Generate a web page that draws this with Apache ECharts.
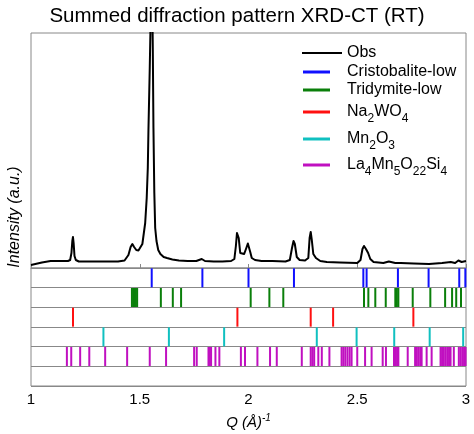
<!DOCTYPE html>
<html>
<head>
<meta charset="utf-8">
<script src="https://cdn.jsdelivr.net/npm/echarts@6/dist/echarts.min.js"></script>
<style>
html,body{margin:0;padding:0;background:#fff;}
#chart{width:474px;height:434px;}
</style>
</head>
<body>
<div id="chart"></div>
<script>
/*----------data----------*/
// observed pattern, Q (1/A) and intensity (a.u.)
var obsQ=[1.000,1.020,1.050,1.090,1.130,1.170,1.180,1.186,1.190,1.193,1.196,1.200,1.206,1.220,1.280,1.340,1.400,1.430,1.448,1.458,1.466,1.474,1.484,1.494,1.502,1.512,1.525,1.532,1.537,1.540,1.546,1.551,1.556,1.560,1.563,1.567,1.571,1.577,1.585,1.595,1.610,1.625,1.650,1.680,1.720,1.760,1.785,1.800,1.840,1.880,1.920,1.935,1.942,1.947,1.950,1.955,1.962,1.970,1.980,1.990,1.997,2.002,2.008,2.015,2.030,2.060,2.110,2.170,2.190,2.200,2.207,2.213,2.222,2.235,2.260,2.275,2.281,2.286,2.291,2.298,2.310,2.330,2.360,2.420,2.500,2.515,2.524,2.531,2.540,2.550,2.560,2.575,2.620,2.645,2.675,2.700,2.760,2.830,2.890,2.930,2.950,2.965,2.972,2.980,2.988,3.000];
var obsI=[3,4,5.5,7,7,7,8,15,27,31,25,12,8,6.5,6.5,6.5,6.5,7.5,13,21,24,21,18,17.5,18,24,45,70,100,138,200,260,300,220,140,75,40,27,18,14,11,10,8.5,7.5,7,7,9,7,6.5,6.5,7,9,22,35,37,30,15,13,14,20,24.5,24,16,10,8,7,7,6.5,8,20,27,24,11,8,7.5,10,30,36,28,14,10,7,6,5.5,5,8,19,22,19,15,9,6,5,6.5,5,5,4.5,4,5,6,5,7.5,9,6,5,7];
// reflection positions of each phase (Q)
var cristobalite=[1.555,1.788,2.000,2.209,2.528,2.543,2.687,2.828,2.969,2.997];
var tridymite=[1.464,1.470,1.476,1.482,1.488,1.597,1.652,1.690,2.010,2.096,2.160,2.531,2.551,2.583,2.631,2.675,2.682,2.689,2.755,2.836,2.904,2.936,2.955,2.977];
var na2wo4=[1.193,1.949,2.286,2.389,2.758];
var mn2o3=[1.333,1.634,1.888,2.314,2.497,2.670,2.833,2.987];
var la4mn5=[1.165,1.185,1.226,1.268,1.341,1.442,1.546,1.621,1.750,1.762,1.816,1.822,1.828,1.848,1.866,1.965,1.984,2.041,2.099,2.130,2.245,2.286,2.294,2.302,2.321,2.337,2.372,2.428,2.436,2.445,2.455,2.465,2.474,2.500,2.536,2.566,2.617,2.632,2.669,2.676,2.683,2.689,2.732,2.766,2.774,2.782,2.790,2.796,2.819,2.842,2.883,2.890,2.898,2.906,2.914,2.922,2.929,2.944,2.967,2.975,2.983,2.991,2.998];
var phaseNames=["Cristobalite-low","Tridymite-low","Na2WO4","Mn2O3","La4Mn5O22Si4"];
var phaseLabels=["Cristobalite-low","Tridymite-low","Na{s|2}WO{s|4}","Mn{s|2}O{s|3}","La{s|4}Mn{s|5}O{s|22}Si{s|4}"];
var phaseTicks=[cristobalite,tridymite,na2wo4,mn2o3,la4mn5];
var phaseColors=["#1010ff","#0a7f0a","#ff1010","#10c0c0","#c010c0"];
var xTicks=[1,1.5,2,2.5,3];
/*----------chart----------*/
var FONT="'Liberation Sans', Arial, sans-serif";
var chart=echarts.init(document.getElementById("chart"));
var obsData=obsQ.map(function(q,i){return [q,obsI[i]];});
var series=[{
	type:"line",
	name:"Obs",
	xAxisIndex:0,
	yAxisIndex:0,
	data:obsData,
	symbol:"none",
	smooth:false,
	lineStyle:{color:"#000",width:2,join:"round"},
	itemStyle:{color:"#000"},
	animation:false
}];
phaseTicks.forEach(function(list,i){	//one row per phase
	series.push({
		type:"scatter",
		name:phaseNames[i],
		xAxisIndex:1,
		yAxisIndex:1,
		symbol:"rect",
		symbolSize:[2,19],
		itemStyle:{color:phaseColors[i],opacity:1},
		data:list.map(function(q){return [q,i+0.5];}),
		animation:false
	});
});
var legendTops=[45,64,82,104,131,157];
var legends=[{
	data:[{name:"Obs",icon:"rect"}],
	left:302,top:legendTops[0],padding:0,
	itemWidth:40,itemHeight:2,
	textStyle:{fontFamily:FONT,fontSize:16,color:"#000"}
}];
phaseNames.forEach(function(n,i){
	legends.push({
		data:[{name:n,icon:"rect"}],
		left:303,top:legendTops[i+1],padding:0,
		itemWidth:27,itemHeight:3,
		formatter:function(){return phaseLabels[i];},
		textStyle:{fontFamily:FONT,fontSize:16,color:"#000",padding:[0,0,0,12],
			rich:{s:{fontFamily:FONT,fontSize:12,color:"#000",padding:[13,0,0,0]}}}
	});
});
var option={
	animation:false,
	title:{
		text:"Summed diffraction pattern XRD-CT (RT)",
		left:"center",top:1,
		textStyle:{fontFamily:FONT,fontSize:20.5,fontWeight:"normal",color:"#000"}
	},
	legend:legends,
	grid:[
		{left:31,top:33,width:435,height:235,show:true,borderColor:"#888",borderWidth:1},
		{left:31,top:268,width:435,height:118,show:true,borderColor:"#888",borderWidth:1}
	],
	xAxis:[
		{gridIndex:0,type:"value",min:1,max:3,axisLine:{show:false},axisTick:{show:false},axisLabel:{show:false},splitLine:{show:false}},
		{gridIndex:1,type:"value",min:1,max:3,interval:0.5,
			axisLine:{lineStyle:{color:"#888"}},
			axisTick:{inside:true,length:4,lineStyle:{color:"#888"}},
			axisLabel:{fontFamily:FONT,fontSize:15,color:"#000",margin:6,
				formatter:function(v){return xTicks.indexOf(v)>=0?String(v):"";}},
			splitLine:{show:false},
			name:"Q (Å){sup|-1}",
			nameLocation:"middle",nameGap:27,
			nameTextStyle:{fontFamily:FONT,fontSize:15,fontStyle:"italic",color:"#000",
				rich:{sup:{fontFamily:FONT,fontSize:10,fontStyle:"italic",color:"#000",padding:[0,0,10,0]}}}
		}
	],
	yAxis:[
		{gridIndex:0,type:"value",min:0,max:235,show:false},
		{gridIndex:1,type:"value",min:0,max:6,interval:1,inverse:true,
			axisLine:{show:false},axisTick:{show:false},axisLabel:{show:false},
			splitLine:{show:true,lineStyle:{color:"#888",width:1}}}
	],
	graphic:[{
		type:"text",x:15,y:217,rotation:Math.PI/2,
		style:{text:"Intensity (a.u.)",fill:"#000",font:"italic 16px "+FONT,align:"center",verticalAlign:"middle"}
	}],
	series:series
};
chart.setOption(option);
</script>
</body>
</html>
